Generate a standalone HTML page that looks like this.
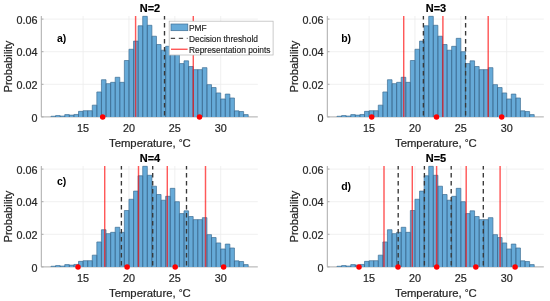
<!DOCTYPE html>
<html><head><meta charset="utf-8"><title>Quantization histograms</title>
<style>
html,body{margin:0;padding:0;background:#fff;}
body{width:550px;height:301px;overflow:hidden;}
svg{display:block;will-change:transform;filter:blur(0.4px);}
text{font-family:"Liberation Sans",sans-serif;}
.grid{stroke:#ececec;stroke-width:0.8;}
.bar{fill:#66aad8;stroke:#3f6e94;stroke-width:0.7;}
.ax{fill:none;stroke:#ababab;stroke-width:1;}
.dash{stroke:#383838;stroke-width:1.35;stroke-dasharray:4.3 3.7;stroke-dashoffset:0.9;}
.red{stroke:#ff0a0a;stroke-opacity:0.68;stroke-width:1.45;}
.dot{fill:#ff0000;}
.tl{font-size:10.8px;fill:#262626;stroke:#262626;stroke-width:0.22px;}
.lab{font-size:11.3px;fill:#262626;stroke:#262626;stroke-width:0.22px;}
.ylab{font-size:11.1px;}
.ttl{font-size:11px;font-weight:bold;fill:#000;stroke:#000;stroke-width:0.2px;}
.pl{font-size:10.5px;font-weight:bold;fill:#000;}
.lg{font-size:8.4px;fill:#1e1e1e;stroke:#1e1e1e;stroke-width:0.15px;}
.leg{fill:#fff;stroke:#bebebe;stroke-width:0.8;}
</style></head>
<body><svg width="550" height="301" viewBox="0 0 550 301">
<rect width="550" height="301" fill="#fff"/>
<line x1="83.09" y1="16" x2="83.09" y2="116.9" class="grid"/>
<line x1="128.96" y1="16" x2="128.96" y2="116.9" class="grid"/>
<line x1="174.83" y1="16" x2="174.83" y2="116.9" class="grid"/>
<line x1="220.69" y1="16" x2="220.69" y2="116.9" class="grid"/>
<line x1="41.3" y1="84.3" x2="257.8" y2="84.3" class="grid"/>
<line x1="41.3" y1="51.7" x2="257.8" y2="51.7" class="grid"/>
<line x1="41.3" y1="19.1" x2="257.8" y2="19.1" class="grid"/>
<path d="M41.3 16V116.9H257.8" class="ax"/>
<path d="M83.09 116.9v-2.2M128.96 116.9v-2.2M174.83 116.9v-2.2M220.69 116.9v-2.2M41.3 116.9h2.2M41.3 84.3h2.2M41.3 51.7h2.2M41.3 19.1h2.2" class="ax"/>
<path d="M50.99 116.9V116.25H55.58V116.9M55.58 116.9V115.6H60.16V116.9M60.16 116.9V116.09H64.75V116.9M64.75 116.9V114.62H69.34V116.9M69.34 116.9V115.11H73.92V116.9M73.92 116.9V114.46H78.51V116.9M78.51 116.9V111.36H83.09V116.9M83.09 116.9V110.71H87.68V116.9M87.68 116.9V110.71H92.27V116.9M92.27 116.9V105.16H96.85V116.9M96.85 116.9V91.96H101.44V116.9M101.44 116.9V79.74H106.03V116.9M106.03 116.9V83.65H110.61V116.9M110.61 116.9V82.34H115.2V116.9M115.2 116.9V77.29H119.79V116.9M119.79 116.9V82.34H124.37V116.9M124.37 116.9V60.5H128.96V116.9M128.96 116.9V49.25H133.55V116.9M133.55 116.9V41.11H138.13V116.9M138.13 116.9V25.78H142.72V116.9M142.72 116.9V16.33H147.31V116.9M147.31 116.9V25.29H151.89V116.9M151.89 116.9V36.22H156.48V116.9M156.48 116.9V44.53H161.07V116.9M161.07 116.9V50.23H165.65V116.9M165.65 116.9V46.32H170.24V116.9M170.24 116.9V38.33H174.83V116.9M174.83 116.9V51.7H179.41V116.9M179.41 116.9V63.6H184V116.9M184 116.9V60.83H188.58V116.9M188.58 116.9V66.53H193.17V116.9M193.17 116.9V69.63H197.76V116.9M197.76 116.9V69.63H202.34V116.9M202.34 116.9V67.67H206.93V116.9M206.93 116.9V84.63H211.52V116.9M211.52 116.9V87.56H216.1V116.9M216.1 116.9V92.94H220.69V116.9M220.69 116.9V98.97H225.28V116.9M225.28 116.9V94.08H229.86V116.9M229.86 116.9V97.99H234.45V116.9M234.45 116.9V110.87H239.04V116.9M239.04 116.9V111.52H243.62V116.9M243.62 116.9V114.62H248.21V116.9" class="bar"/>
<line x1="164.5" y1="16" x2="164.5" y2="116.9" class="dash"/>
<line x1="135.6" y1="16" x2="135.6" y2="116.9" class="red"/>
<line x1="193.3" y1="16" x2="193.3" y2="116.9" class="red"/>
<circle cx="102.7" cy="117.1" r="2.75" class="dot"/>
<circle cx="199.5" cy="117.1" r="2.75" class="dot"/>
<text x="83.09" y="132.1" class="tl" text-anchor="middle">15</text>
<text x="128.96" y="132.1" class="tl" text-anchor="middle">20</text>
<text x="174.83" y="132.1" class="tl" text-anchor="middle">25</text>
<text x="220.69" y="132.1" class="tl" text-anchor="middle">30</text>
<text x="37.4" y="121.6" class="tl" text-anchor="end">0</text>
<text x="37.4" y="89" class="tl" text-anchor="end">0.02</text>
<text x="37.4" y="56.4" class="tl" text-anchor="end">0.04</text>
<text x="37.4" y="23.8" class="tl" text-anchor="end">0.06</text>
<text x="149.9" y="146.8" class="lab" text-anchor="middle">Temperature, <tspan dy="-0.9" style="font-size:9.6px">°</tspan><tspan dy="0.9">C</tspan></text>
<text transform="translate(11.5,66.6) rotate(-90)" class="lab ylab" text-anchor="middle">Probability</text>
<text x="150" y="11.6" class="ttl" text-anchor="middle">N=2</text>
<text x="57" y="41.6" class="pl">a)</text>
<rect x="169.2" y="21.2" width="103.9" height="33.8" class="leg"/>
<rect x="171" y="24" width="16.8" height="6.7" class="bar"/>
<line x1="170.8" y1="38.3" x2="187.6" y2="38.3" class="dash" style="stroke-dashoffset:0;stroke:#4a4a4a;stroke-width:1.25"/>
<line x1="171" y1="49.3" x2="187.6" y2="49.3" class="red"/>
<text x="189" y="30.8" class="lg">PMF</text>
<text x="189" y="41.8" class="lg">Decision threshold</text>
<text x="189" y="52.8" class="lg">Representation points</text>
<line x1="369.1" y1="16" x2="369.1" y2="116.9" class="grid"/>
<line x1="414.96" y1="16" x2="414.96" y2="116.9" class="grid"/>
<line x1="460.83" y1="16" x2="460.83" y2="116.9" class="grid"/>
<line x1="506.69" y1="16" x2="506.69" y2="116.9" class="grid"/>
<line x1="327.3" y1="84.3" x2="543.8" y2="84.3" class="grid"/>
<line x1="327.3" y1="51.7" x2="543.8" y2="51.7" class="grid"/>
<line x1="327.3" y1="19.1" x2="543.8" y2="19.1" class="grid"/>
<path d="M327.3 16V116.9H543.8" class="ax"/>
<path d="M369.1 116.9v-2.2M414.96 116.9v-2.2M460.83 116.9v-2.2M506.69 116.9v-2.2M327.3 116.9h2.2M327.3 84.3h2.2M327.3 51.7h2.2M327.3 19.1h2.2" class="ax"/>
<path d="M336.99 116.9V116.25H341.58V116.9M341.58 116.9V115.6H346.16V116.9M346.16 116.9V116.09H350.75V116.9M350.75 116.9V114.62H355.34V116.9M355.34 116.9V115.11H359.92V116.9M359.92 116.9V114.46H364.51V116.9M364.51 116.9V111.36H369.1V116.9M369.1 116.9V110.71H373.68V116.9M373.68 116.9V110.71H378.27V116.9M378.27 116.9V105.16H382.85V116.9M382.85 116.9V91.96H387.44V116.9M387.44 116.9V79.74H392.03V116.9M392.03 116.9V83.65H396.61V116.9M396.61 116.9V82.34H401.2V116.9M401.2 116.9V77.29H405.79V116.9M405.79 116.9V82.34H410.37V116.9M410.37 116.9V60.5H414.96V116.9M414.96 116.9V49.25H419.55V116.9M419.55 116.9V41.11H424.13V116.9M424.13 116.9V25.78H428.72V116.9M428.72 116.9V16.33H433.31V116.9M433.31 116.9V25.29H437.89V116.9M437.89 116.9V36.22H442.48V116.9M442.48 116.9V44.53H447.07V116.9M447.07 116.9V50.23H451.65V116.9M451.65 116.9V46.32H456.24V116.9M456.24 116.9V38.33H460.83V116.9M460.83 116.9V51.7H465.41V116.9M465.41 116.9V63.6H470V116.9M470 116.9V60.83H474.58V116.9M474.58 116.9V66.53H479.17V116.9M479.17 116.9V69.63H483.76V116.9M483.76 116.9V69.63H488.34V116.9M488.34 116.9V67.67H492.93V116.9M492.93 116.9V84.63H497.52V116.9M497.52 116.9V87.56H502.1V116.9M502.1 116.9V92.94H506.69V116.9M506.69 116.9V98.97H511.28V116.9M511.28 116.9V94.08H515.86V116.9M515.86 116.9V97.99H520.45V116.9M520.45 116.9V110.87H525.04V116.9M525.04 116.9V111.52H529.62V116.9M529.62 116.9V114.62H534.21V116.9" class="bar"/>
<line x1="423.4" y1="16" x2="423.4" y2="116.9" class="dash"/>
<line x1="465.6" y1="16" x2="465.6" y2="116.9" class="dash"/>
<line x1="403.7" y1="16" x2="403.7" y2="116.9" class="red"/>
<line x1="442.9" y1="16" x2="442.9" y2="116.9" class="red"/>
<line x1="488.2" y1="16" x2="488.2" y2="116.9" class="red"/>
<circle cx="371.7" cy="117.1" r="2.75" class="dot"/>
<circle cx="436.5" cy="117.1" r="2.75" class="dot"/>
<circle cx="501.7" cy="117.1" r="2.75" class="dot"/>
<text x="369.1" y="132.1" class="tl" text-anchor="middle">15</text>
<text x="414.96" y="132.1" class="tl" text-anchor="middle">20</text>
<text x="460.83" y="132.1" class="tl" text-anchor="middle">25</text>
<text x="506.69" y="132.1" class="tl" text-anchor="middle">30</text>
<text x="323.4" y="121.6" class="tl" text-anchor="end">0</text>
<text x="323.4" y="89" class="tl" text-anchor="end">0.02</text>
<text x="323.4" y="56.4" class="tl" text-anchor="end">0.04</text>
<text x="323.4" y="23.8" class="tl" text-anchor="end">0.06</text>
<text x="435.9" y="146.8" class="lab" text-anchor="middle">Temperature, <tspan dy="-0.9" style="font-size:9.6px">°</tspan><tspan dy="0.9">C</tspan></text>
<text transform="translate(297.5,66.6) rotate(-90)" class="lab ylab" text-anchor="middle">Probability</text>
<text x="436" y="11.6" class="ttl" text-anchor="middle">N=3</text>
<text x="341.2" y="41.6" class="pl">b)</text>
<line x1="83.09" y1="166" x2="83.09" y2="266.9" class="grid"/>
<line x1="128.96" y1="166" x2="128.96" y2="266.9" class="grid"/>
<line x1="174.83" y1="166" x2="174.83" y2="266.9" class="grid"/>
<line x1="220.69" y1="166" x2="220.69" y2="266.9" class="grid"/>
<line x1="41.3" y1="234.3" x2="257.8" y2="234.3" class="grid"/>
<line x1="41.3" y1="201.7" x2="257.8" y2="201.7" class="grid"/>
<line x1="41.3" y1="169.1" x2="257.8" y2="169.1" class="grid"/>
<path d="M41.3 166V266.9H257.8" class="ax"/>
<path d="M83.09 266.9v-2.2M128.96 266.9v-2.2M174.83 266.9v-2.2M220.69 266.9v-2.2M41.3 266.9h2.2M41.3 234.3h2.2M41.3 201.7h2.2M41.3 169.1h2.2" class="ax"/>
<path d="M50.99 266.9V266.25H55.58V266.9M55.58 266.9V265.6H60.16V266.9M60.16 266.9V266.08H64.75V266.9M64.75 266.9V264.62H69.34V266.9M69.34 266.9V265.11H73.92V266.9M73.92 266.9V264.45H78.51V266.9M78.51 266.9V261.36H83.09V266.9M83.09 266.9V260.71H87.68V266.9M87.68 266.9V260.71H92.27V266.9M92.27 266.9V255.16H96.85V266.9M96.85 266.9V241.96H101.44V266.9M101.44 266.9V229.74H106.03V266.9M106.03 266.9V233.65H110.61V266.9M110.61 266.9V232.34H115.2V266.9M115.2 266.9V227.29H119.79V266.9M119.79 266.9V232.34H124.37V266.9M124.37 266.9V210.5H128.96V266.9M128.96 266.9V199.25H133.55V266.9M133.55 266.9V191.1H138.13V266.9M138.13 266.9V175.78H142.72V266.9M142.72 266.9V166.33H147.31V266.9M147.31 266.9V175.29H151.89V266.9M151.89 266.9V186.21H156.48V266.9M156.48 266.9V194.53H161.07V266.9M161.07 266.9V200.23H165.65V266.9M165.65 266.9V196.32H170.24V266.9M170.24 266.9V188.33H174.83V266.9M174.83 266.9V201.7H179.41V266.9M179.41 266.9V213.6H184V266.9M184 266.9V210.83H188.58V266.9M188.58 266.9V216.53H193.17V266.9M193.17 266.9V219.63H197.76V266.9M197.76 266.9V219.63H202.34V266.9M202.34 266.9V217.67H206.93V266.9M206.93 266.9V234.63H211.52V266.9M211.52 266.9V237.56H216.1V266.9M216.1 266.9V242.94H220.69V266.9M220.69 266.9V248.97H225.28V266.9M225.28 266.9V244.08H229.86V266.9M229.86 266.9V247.99H234.45V266.9M234.45 266.9V260.87H239.04V266.9M239.04 266.9V261.52H243.62V266.9M243.62 266.9V264.62H248.21V266.9" class="bar"/>
<line x1="121.4" y1="166" x2="121.4" y2="266.9" class="dash"/>
<line x1="152.7" y1="166" x2="152.7" y2="266.9" class="dash"/>
<line x1="186.5" y1="166" x2="186.5" y2="266.9" class="dash"/>
<line x1="104.7" y1="166" x2="104.7" y2="266.9" class="red"/>
<line x1="138.5" y1="166" x2="138.5" y2="266.9" class="red"/>
<line x1="167.3" y1="166" x2="167.3" y2="266.9" class="red"/>
<line x1="205.5" y1="166" x2="205.5" y2="266.9" class="red"/>
<circle cx="78" cy="267.1" r="2.75" class="dot"/>
<circle cx="127.1" cy="267.1" r="2.75" class="dot"/>
<circle cx="175.2" cy="267.1" r="2.75" class="dot"/>
<circle cx="223.6" cy="267.1" r="2.75" class="dot"/>
<text x="83.09" y="282.1" class="tl" text-anchor="middle">15</text>
<text x="128.96" y="282.1" class="tl" text-anchor="middle">20</text>
<text x="174.83" y="282.1" class="tl" text-anchor="middle">25</text>
<text x="220.69" y="282.1" class="tl" text-anchor="middle">30</text>
<text x="37.4" y="271.6" class="tl" text-anchor="end">0</text>
<text x="37.4" y="239" class="tl" text-anchor="end">0.02</text>
<text x="37.4" y="206.4" class="tl" text-anchor="end">0.04</text>
<text x="37.4" y="173.8" class="tl" text-anchor="end">0.06</text>
<text x="149.9" y="296.8" class="lab" text-anchor="middle">Temperature, <tspan dy="-0.9" style="font-size:9.6px">°</tspan><tspan dy="0.9">C</tspan></text>
<text transform="translate(11.5,216.6) rotate(-90)" class="lab ylab" text-anchor="middle">Probability</text>
<text x="150" y="161.6" class="ttl" text-anchor="middle">N=4</text>
<text x="57" y="185.3" class="pl">c)</text>
<line x1="369.1" y1="166" x2="369.1" y2="266.9" class="grid"/>
<line x1="414.96" y1="166" x2="414.96" y2="266.9" class="grid"/>
<line x1="460.83" y1="166" x2="460.83" y2="266.9" class="grid"/>
<line x1="506.69" y1="166" x2="506.69" y2="266.9" class="grid"/>
<line x1="327.3" y1="234.3" x2="543.8" y2="234.3" class="grid"/>
<line x1="327.3" y1="201.7" x2="543.8" y2="201.7" class="grid"/>
<line x1="327.3" y1="169.1" x2="543.8" y2="169.1" class="grid"/>
<path d="M327.3 166V266.9H543.8" class="ax"/>
<path d="M369.1 266.9v-2.2M414.96 266.9v-2.2M460.83 266.9v-2.2M506.69 266.9v-2.2M327.3 266.9h2.2M327.3 234.3h2.2M327.3 201.7h2.2M327.3 169.1h2.2" class="ax"/>
<path d="M336.99 266.9V266.25H341.58V266.9M341.58 266.9V265.6H346.16V266.9M346.16 266.9V266.08H350.75V266.9M350.75 266.9V264.62H355.34V266.9M355.34 266.9V265.11H359.92V266.9M359.92 266.9V264.45H364.51V266.9M364.51 266.9V261.36H369.1V266.9M369.1 266.9V260.71H373.68V266.9M373.68 266.9V260.71H378.27V266.9M378.27 266.9V255.16H382.85V266.9M382.85 266.9V241.96H387.44V266.9M387.44 266.9V229.74H392.03V266.9M392.03 266.9V233.65H396.61V266.9M396.61 266.9V232.34H401.2V266.9M401.2 266.9V227.29H405.79V266.9M405.79 266.9V232.34H410.37V266.9M410.37 266.9V210.5H414.96V266.9M414.96 266.9V199.25H419.55V266.9M419.55 266.9V191.1H424.13V266.9M424.13 266.9V175.78H428.72V266.9M428.72 266.9V166.33H433.31V266.9M433.31 266.9V175.29H437.89V266.9M437.89 266.9V186.21H442.48V266.9M442.48 266.9V194.53H447.07V266.9M447.07 266.9V200.23H451.65V266.9M451.65 266.9V196.32H456.24V266.9M456.24 266.9V188.33H460.83V266.9M460.83 266.9V201.7H465.41V266.9M465.41 266.9V213.6H470V266.9M470 266.9V210.83H474.58V266.9M474.58 266.9V216.53H479.17V266.9M479.17 266.9V219.63H483.76V266.9M483.76 266.9V219.63H488.34V266.9M488.34 266.9V217.67H492.93V266.9M492.93 266.9V234.63H497.52V266.9M497.52 266.9V237.56H502.1V266.9M502.1 266.9V242.94H506.69V266.9M506.69 266.9V248.97H511.28V266.9M511.28 266.9V244.08H515.86V266.9M515.86 266.9V247.99H520.45V266.9M520.45 266.9V260.87H525.04V266.9M525.04 266.9V261.52H529.62V266.9M529.62 266.9V264.62H534.21V266.9" class="bar"/>
<line x1="398.2" y1="166" x2="398.2" y2="266.9" class="dash"/>
<line x1="424.4" y1="166" x2="424.4" y2="266.9" class="dash"/>
<line x1="451.2" y1="166" x2="451.2" y2="266.9" class="dash"/>
<line x1="483.3" y1="166" x2="483.3" y2="266.9" class="dash"/>
<line x1="384" y1="166" x2="384" y2="266.9" class="red"/>
<line x1="412.3" y1="166" x2="412.3" y2="266.9" class="red"/>
<line x1="436.6" y1="166" x2="436.6" y2="266.9" class="red"/>
<line x1="466.2" y1="166" x2="466.2" y2="266.9" class="red"/>
<line x1="500.1" y1="166" x2="500.1" y2="266.9" class="red"/>
<circle cx="359" cy="267.1" r="2.75" class="dot"/>
<circle cx="398" cy="267.1" r="2.75" class="dot"/>
<circle cx="436.7" cy="267.1" r="2.75" class="dot"/>
<circle cx="475.8" cy="267.1" r="2.75" class="dot"/>
<circle cx="515.1" cy="267.1" r="2.75" class="dot"/>
<text x="369.1" y="282.1" class="tl" text-anchor="middle">15</text>
<text x="414.96" y="282.1" class="tl" text-anchor="middle">20</text>
<text x="460.83" y="282.1" class="tl" text-anchor="middle">25</text>
<text x="506.69" y="282.1" class="tl" text-anchor="middle">30</text>
<text x="323.4" y="271.6" class="tl" text-anchor="end">0</text>
<text x="323.4" y="239" class="tl" text-anchor="end">0.02</text>
<text x="323.4" y="206.4" class="tl" text-anchor="end">0.04</text>
<text x="323.4" y="173.8" class="tl" text-anchor="end">0.06</text>
<text x="435.9" y="296.8" class="lab" text-anchor="middle">Temperature, <tspan dy="-0.9" style="font-size:9.6px">°</tspan><tspan dy="0.9">C</tspan></text>
<text transform="translate(297.5,216.6) rotate(-90)" class="lab ylab" text-anchor="middle">Probability</text>
<text x="436" y="161.6" class="ttl" text-anchor="middle">N=5</text>
<text x="341.2" y="190.2" class="pl">d)</text>
</svg></body></html>
